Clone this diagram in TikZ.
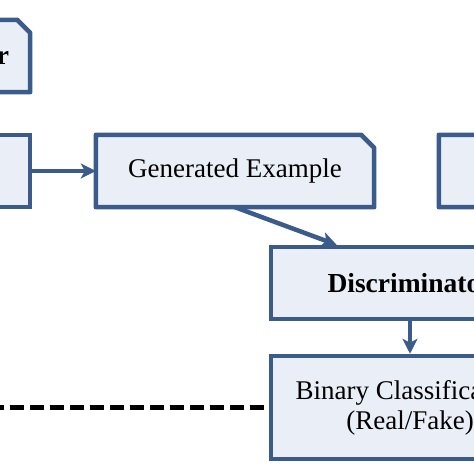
\documentclass[tikz,border=0pt]{standalone}
\usepackage{fontspec}
\setmainfont{Liberation Serif}
\usetikzlibrary{arrows.meta,calc}
\definecolor{boxline}{RGB}{59,92,138}
\definecolor{boxfill}{RGB}{233,238,247}
\tikzset{
  box/.style={draw=boxline, fill=boxfill, line width=4.5pt, rectangle, minimum height=72pt, inner sep=0pt, align=center, font=\fontsize{27}{31}\selectfont},
  cbox/.style={rectangle, minimum height=72pt, inner sep=0pt, align=center, font=\fontsize{27}{31}\selectfont},
  chamf/.style={draw=boxline, fill=boxfill, line width=4.5pt, line join=round},
  conn/.style={draw=boxline, line width=4.5pt, -{Stealth[length=15pt,width=15pt,inset=4pt]}},
  dashline/.style={draw=black, line width=4.5pt, dash pattern=on 14pt off 6pt}
}
\begin{document}
\begin{tikzpicture}[x=1pt,y=-1pt]
\useasboundingbox (0,0) rectangle (474,474);
\clip (0,0) rectangle (474,474);
% nodes (positions)
\node[cbox, minimum width=164pt] (gen) at (-52,56) {};
\node[box, minimum width=180pt] (noise) at (-60,171) {};
\node[cbox, minimum width=278pt] (genex) at (235,171) {};
\node[cbox, minimum width=262pt] (real) at (570,171) {};
\node[box, minimum width=278pt, font=\fontsize{27.5}{31}\selectfont\bfseries] (disc) at (410,283) {Discriminator};
\node[box, minimum width=278pt, minimum height=103pt, font=\fontsize{27}{30}\selectfont] (bin) at (410,407.5) {Binary Classification\\(Real/Fake)};
% chamfered outlines
\foreach \n in {gen,genex,real}{
  \path[chamf] (\n.south west) -- (\n.north west) -- ([xshift=-13pt]\n.north east) -- ([yshift=-13pt]\n.north east) -- (\n.south east) -- cycle;
}
\node[cbox, minimum width=164pt, font=\fontsize{27.5}{31}\selectfont\bfseries] (gentext) at (gen.center) {Generator};
\node[cbox, minimum width=278pt] (genextext) at (genex.center) {Generated Example};
% connectors
\draw[conn] (noise.east) -- (genex.west);
\draw[conn] (genex.south) -- ($(disc.north west)!0.24!(disc.north east)$);
\draw[conn] (disc.south) -- (bin.north);
\coordinate (dashstart) at (-10,407.5);
\draw[dashline] (dashstart) -- (bin.west);
\end{tikzpicture}
\end{document}
